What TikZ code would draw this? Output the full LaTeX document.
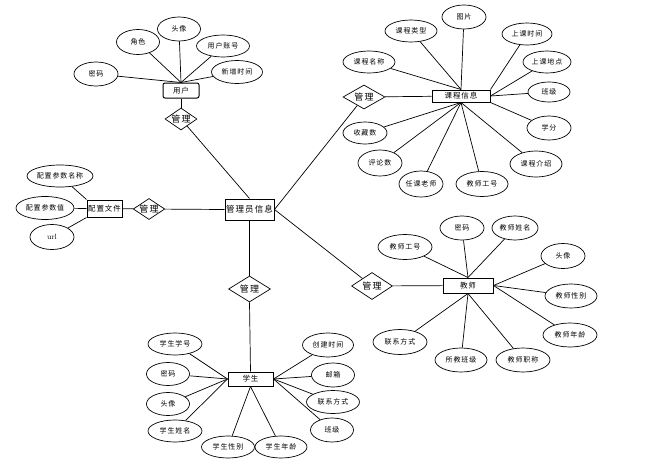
\documentclass[tikz,border=0pt]{standalone}
\usepackage{fontspec}
\newfontfamily\cjk[LetterSpace=12]{Noto Sans CJK SC}
\usetikzlibrary{shapes.geometric}
\begin{document}
\begin{tikzpicture}[x=1pt,y=-1pt,
  attr/.style={ellipse,draw,line width=0.7pt,inner sep=0pt,font=\cjk\fontsize{7}{8}\selectfont},
  ent/.style={rectangle,draw,line width=1pt,inner sep=0pt,font=\cjk\fontsize{7.5}{8}\selectfont},
  rel/.style={diamond,draw,line width=0.7pt,inner sep=0pt,shape aspect=1.5,font=\cjk\fontsize{9}{10}\selectfont},
  ln/.style={line width=0.7pt}]
\useasboundingbox (0,0) rectangle (657,466);
% admin
\node[ent,minimum width=49,minimum height=21,font=\cjk\fontsize{8.5}{9}\selectfont] (admin) at (249.5,209.5) {管理员信息};
% user
\node[ent,rounded corners=2pt,minimum width=36,minimum height=15] (user) at (181,90.5) {用户};
\node[attr,minimum width=43,minimum height=25] (u1) at (138,42) {角色};
\node[attr,minimum width=43,minimum height=24] (u2) at (179,29) {头像};
\node[attr,minimum width=53,minimum height=22] (u3) at (223,46) {用户账号};
\node[attr,minimum width=51,minimum height=23] (u4) at (237,72) {新增时间};
\node[attr,minimum width=44,minimum height=24] (u5) at (96,74) {密码};
\node[rel,minimum width=32,minimum height=22] (dU) at (181,119) {管理};
\foreach \a in {u1,u2,u3,u4,u5} \draw[ln] (\a) -- (user.north);
\draw[ln] (user) -- (dU);
\draw[ln] (dU) -- (admin.north);
% config
\node[ent,minimum width=35,minimum height=17] (cfg) at (104.5,208.5) {配置文件};
\node[rel,minimum width=30,minimum height=20] (dCf) at (149,209) {管理};
\node[attr,minimum width=66,minimum height=22] (cf1) at (60,176) {配置参数名称};
\node[attr,minimum width=58,minimum height=23] (cf2) at (45,208) {配置参数值};
\node[attr,minimum width=44,minimum height=25,font=\rmfamily\fontsize{7.5}{8}\selectfont] (cf3) at (52,237) {url};
\draw[ln] (cf1) -- (cfg.north west);
\draw[ln] (cf2) -- (cfg.west);
\draw[ln] (cf3) -- (cfg.south west);
\draw[ln] (cfg) -- (dCf);
\draw[ln] (dCf) -- (admin.west);
% course
\node[ent,minimum width=58,minimum height=12] (cb) at (461,96) {课程信息};
\node[rel,minimum width=42,minimum height=24] (dC) at (364,97) {管理};
\node[attr,minimum width=52,minimum height=22] (c1) at (411,31) {课程类型};
\node[attr,minimum width=44,minimum height=24] (c2) at (464,17) {图片};
\node[attr,minimum width=50,minimum height=22] (c3) at (527,34) {上课时间};
\node[attr,minimum width=48,minimum height=22] (c4) at (547,62) {上课地点};
\node[attr,minimum width=42,minimum height=20] (c5) at (549,92) {班级};
\node[attr,minimum width=52,minimum height=22] (c6) at (369,62) {课程名称};
\node[attr,minimum width=44,minimum height=24] (c7) at (549,128) {学分};
\node[attr,minimum width=44,minimum height=22] (c8) at (365,133) {收藏数};
\node[attr,minimum width=44,minimum height=26] (c9) at (380,163) {评论数};
\node[attr,minimum width=44,minimum height=26] (c10) at (421,184) {任课老师};
\node[attr,minimum width=52,minimum height=25] (c11) at (482,184) {教师工号};
\node[attr,minimum width=52,minimum height=26] (c12) at (536,164) {课程介绍};
\foreach \a in {c1,c2,c6} \draw[ln] (\a) -- (cb.north);
\draw[ln] (c3) -- (cb.north east);
\foreach \a in {c4,c5} \draw[ln] (\a) -- (cb.east);
\draw[ln] (c7) -- (cb.south east);
\foreach \a in {c8,c9,c10,c11,c12} \draw[ln] (\a) -- (cb.south);
\draw[ln] (dC) -- (cb);
\draw[ln] (admin.east) -- (dC);
% teacher
\node[ent,minimum width=50,minimum height=15] (tb) at (468,285.5) {教师};
\node[rel,minimum width=41,minimum height=27] (dT) at (372,286) {管理};
\node[attr,minimum width=44,minimum height=24] (t1) at (462,228) {密码};
\node[attr,minimum width=46,minimum height=24] (t2) at (515,228) {教师姓名};
\node[attr,minimum width=54,minimum height=25] (t3) at (405,247) {教师工号};
\node[attr,minimum width=44,minimum height=25] (t4) at (563,256) {头像};
\node[attr,minimum width=52,minimum height=24] (t5) at (571,296) {教师性别};
\node[attr,minimum width=54,minimum height=24] (t6) at (570,335) {教师年龄};
\node[attr,minimum width=54,minimum height=25] (t7) at (400,342) {联系方式};
\node[attr,minimum width=52,minimum height=24] (t8) at (461,360) {所教班级};
\node[attr,minimum width=54,minimum height=24] (t9) at (523,360) {教师职称};
\foreach \a in {t1,t2,t3} \draw[ln] (\a) -- (tb.north);
\foreach \a in {t4,t5,t6} \draw[ln] (\a) -- (tb.east);
\foreach \a in {t7,t8,t9} \draw[ln] (\a) -- (tb.south);
\draw[ln] (dT) -- (tb);
\draw[ln] (admin.east) -- (dT);
% student
\node[ent,minimum width=45,minimum height=14] (sb) at (250.5,379) {学生};
\node[rel,minimum width=42,minimum height=26] (dS) at (249.5,289) {管理};
\node[attr,minimum width=54,minimum height=22] (s1) at (175,344) {学生学号};
\node[attr,minimum width=43,minimum height=23] (s2) at (168,374) {密码};
\node[attr,minimum width=43,minimum height=23] (s3) at (168,404) {头像};
\node[attr,minimum width=54,minimum height=22] (s4) at (175,431) {学生姓名};
\node[attr,minimum width=53,minimum height=22] (s5) at (228,447) {学生性别};
\node[attr,minimum width=52,minimum height=22] (s6) at (281,447) {学生年龄};
\node[attr,minimum width=51,minimum height=24] (s7) at (328,345) {创建时间};
\node[attr,minimum width=43,minimum height=24] (s8) at (333,375) {邮箱};
\node[attr,minimum width=53,minimum height=23] (s9) at (333,402) {联系方式};
\node[attr,minimum width=43,minimum height=24] (s10) at (332,430) {班级};
\foreach \a in {s1,s2,s3,s4} \draw[ln] (\a) -- (sb.west);
\foreach \a in {s7,s8,s9,s10} \draw[ln] (\a) -- (sb.east);
\foreach \a in {s5,s6} \draw[ln] (\a) -- (sb.south);
\draw[ln] (admin.south) -- (dS.north);
\draw[ln] (dS.south) -- (sb.north);
\end{tikzpicture}
\end{document}
